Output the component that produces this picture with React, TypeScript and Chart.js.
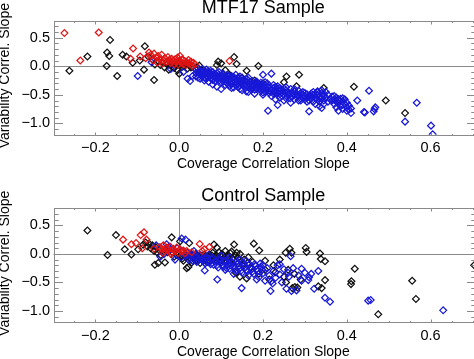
import React, { useEffect, useRef } from 'react';
import { Chart, registerables } from 'chart.js';

Chart.register(...registerables);

type P = [number, number];

// ---------- data: MTF17 sample ----------
const mtfRed: P[] = [
  [-0.274, 0.58], [-0.192, 0.59], [-0.236, 0.10], [-0.110, 0.31], [-0.116, 0.13], [-0.093, 0.17],
  [-0.072, 0.24], [-0.068, 0.20], [-0.060, 0.22], [-0.055, 0.15], [-0.050, 0.18], [-0.046, 0.12],
  [-0.042, 0.20], [-0.038, 0.10], [-0.034, 0.14], [-0.030, 0.08], [-0.027, 0.16], [-0.024, 0.11],
  [-0.021, 0.06], [-0.018, 0.13], [-0.015, 0.09], [-0.012, 0.04], [-0.010, 0.12], [-0.007, 0.07],
  [-0.004, 0.15], [-0.002, 0.03], [0.001, 0.10], [0.004, 0.06], [0.007, 0.12], [0.010, 0.04],
  [0.013, 0.09], [0.016, 0.02], [0.019, 0.07], [0.022, 0.11], [0.025, 0.04], [0.028, 0.08],
  [0.031, 0.01], [0.034, 0.06], [0.038, 0.03], [-0.062, 0.10], [-0.052, 0.06], [0.120, 0.09],
  [-0.080, 0.14], [-0.040, 0.05], [0.002, 0.18],
];

const mtfBlack: P[] = [
  [-0.262, -0.08], [-0.219, 0.17], [-0.165, 0.46], [-0.172, 0.24], [-0.167, 0.18], [-0.173, 0.005],
  [-0.148, -0.17], [-0.135, 0.20], [-0.126, 0.17], [-0.111, 0.06], [-0.082, 0.35], [-0.094, 0.10],
  [-0.084, -0.06], [-0.060, -0.24], [-0.074, 0.17], [-0.064, 0.12], [-0.058, 0.03], [-0.050, 0.09],
  [-0.045, 0.02], [-0.040, 0.07], [-0.035, -0.02], [-0.030, 0.04], [-0.025, -0.06], [-0.020, 0.01],
  [-0.016, 0.05], [-0.012, -0.03], [-0.008, 0.02], [-0.004, -0.07], [0.000, -0.13], [0.003, 0.03],
  [0.008, -0.01], [0.012, 0.00], [0.016, 0.04], [0.020, -0.04], [0.024, 0.02], [0.028, -0.02],
  [0.033, 0.00], [0.038, -0.05], [0.043, -0.02], [0.048, 0.01], [0.055, -0.08], [0.070, -0.12],
  [0.090, 0.02], [0.093, 0.08], [0.100, 0.05], [0.131, 0.16], [0.137, 0.04], [0.110, -0.07],
  [0.161, -0.08], [0.189, 0.005], [0.256, -0.18], [0.286, -0.15], [0.417, -0.36], [0.493, -0.60],
  [0.539, -0.82], [0.150, -0.20], [0.200, -0.30], [0.230, -0.45], [0.280, -0.35], [0.330, -0.45],
  [0.345, -0.38], [0.120, -0.15], [0.180, -0.25], [0.250, -0.28], [0.310, -0.52], [0.380, -0.58],
];

const mtfBlue: P[] = [
  [-0.066, 0.07], [-0.099, -0.17], [0.026, -0.26], [0.020, -0.22], [0.032, -0.17], [-0.020, -0.05], [0.010, -0.10],
  [0.040, -0.06], [0.040, -0.12], [0.040, -0.18], [0.045, -0.10], [0.045, -0.04], [0.045, -0.20],
  [0.050, -0.08], [0.050, -0.15], [0.050, -0.22], [0.050, -0.12], [0.055, -0.05], [0.055, -0.18], [0.055, -0.10],
  [0.060, -0.13], [0.060, -0.20], [0.060, -0.08], [0.060, -0.25], [0.065, -0.11], [0.065, -0.16], [0.065, -0.22],
  [0.070, -0.09], [0.070, -0.19], [0.070, -0.14], [0.070, -0.27], [0.075, -0.15], [0.075, -0.21], [0.075, -0.12],
  [0.080, -0.18], [0.080, -0.10], [0.080, -0.24], [0.080, -0.32], [0.085, -0.14], [0.085, -0.20], [0.085, -0.26],
  [0.090, -0.17], [0.090, -0.22], [0.090, -0.12], [0.090, -0.36], [0.095, -0.19], [0.095, -0.25], [0.095, -0.15],
  [0.100, -0.21], [0.100, -0.16], [0.100, -0.28], [0.100, -0.40], [0.105, -0.18], [0.105, -0.24], [0.105, -0.13],
  [0.110, -0.22], [0.110, -0.27], [0.110, -0.19], [0.110, -0.33], [0.115, -0.20], [0.115, -0.25], [0.115, -0.30],
  [0.120, -0.23], [0.120, -0.17], [0.120, -0.28], [0.120, -0.35], [0.125, -0.21], [0.125, -0.26], [0.125, -0.31],
  [0.130, -0.24], [0.130, -0.19], [0.130, -0.29], [0.130, -0.37], [0.135, -0.22], [0.135, -0.27], [0.135, -0.33],
  [0.140, -0.25], [0.140, -0.30], [0.140, -0.20], [0.140, -0.36], [0.145, -0.28], [0.145, -0.23], [0.145, -0.34],
  [0.150, -0.26], [0.150, -0.31], [0.150, -0.21], [0.150, -0.42], [0.155, -0.29], [0.155, -0.24], [0.155, -0.35],
  [0.160, -0.27], [0.160, -0.33], [0.160, -0.22], [0.160, -0.44], [0.165, -0.30], [0.165, -0.25], [0.165, -0.37],
  [0.170, -0.28], [0.170, -0.34], [0.170, -0.40], [0.175, -0.31], [0.175, -0.26], [0.175, -0.38],
  [0.180, -0.33], [0.180, -0.29], [0.180, -0.41], [0.180, -0.48], [0.185, -0.30], [0.185, -0.36], [0.185, -0.27],
  [0.190, -0.34], [0.190, -0.39], [0.190, -0.31], [0.195, -0.37], [0.195, -0.29], [0.195, -0.43],
  [0.200, -0.35], [0.200, -0.40], [0.200, -0.15], [0.200, -0.50], [0.205, -0.38], [0.205, -0.33], [0.205, -0.45],
  [0.210, -0.36], [0.210, -0.42], [0.212, -0.78], [0.210, -0.30], [0.215, -0.39], [0.215, -0.34], [0.215, -0.47],
  [0.220, -0.41], [0.220, -0.13], [0.220, -0.52], [0.225, -0.38], [0.225, -0.44], [0.225, -0.33],
  [0.230, -0.42], [0.230, -0.47], [0.230, -0.36], [0.235, -0.40], [0.235, -0.68], [0.235, -0.45],
  [0.240, -0.43], [0.240, -0.49], [0.240, -0.38], [0.240, -0.55], [0.245, -0.41], [0.245, -0.46],
  [0.250, -0.44], [0.250, -0.50], [0.250, -0.39], [0.255, -0.47], [0.255, -0.42], [0.255, -0.56],
  [0.260, -0.45], [0.260, -0.51], [0.266, -0.64], [0.266, -0.48], [0.266, -0.40], [0.270, -0.46], [0.270, -0.53],
  [0.275, -0.50], [0.275, -0.44], [0.275, -0.58], [0.280, -0.48], [0.280, -0.54], [0.285, -0.43], [0.285, -0.52],
  [0.290, -0.47], [0.290, -0.56], [0.290, -0.60], [0.295, -0.50], [0.295, -0.45],
  [0.300, -0.52], [0.300, -0.58], [0.300, -0.47], [0.305, -0.55], [0.305, -0.49],
  [0.310, -0.79], [0.310, -0.53], [0.310, -0.60], [0.315, -0.48], [0.315, -0.57],
  [0.320, -0.51], [0.320, -0.62], [0.320, -0.45], [0.325, -0.55], [0.325, -0.66],
  [0.330, -0.50], [0.330, -0.58], [0.330, -0.44], [0.335, -0.62], [0.335, -0.53], [0.335, -0.70],
  [0.340, -0.47], [0.340, -0.56], [0.340, -0.42], [0.340, -0.73], [0.345, -0.60], [0.345, -0.52], [0.345, -0.66],
  [0.350, -0.45], [0.350, -0.55], [0.355, -0.50], [0.355, -0.62],
  [0.365, -0.53], [0.365, -0.60], [0.370, -0.58], [0.370, -0.66], [0.370, -0.52], [0.375, -0.55], [0.375, -0.72],
  [0.380, -0.60], [0.380, -0.65], [0.380, -0.78], [0.385, -0.57], [0.385, -0.70],
  [0.390, -0.62], [0.390, -0.75], [0.390, -0.68], [0.395, -0.58], [0.395, -0.66],
  [0.400, -0.72], [0.400, -0.78], [0.400, -0.64], [0.405, -0.69], [0.405, -0.76], [0.410, -0.74], [0.410, -0.82],
  [0.425, -0.60], [0.441, -0.80], [0.443, -0.81], [0.453, -0.43], [0.466, -0.75], [0.468, -0.72], [0.464, -0.79],
  [0.539, -0.97], [0.567, -0.64], [0.601, -1.04], [0.605, -1.19],
  [0.045, -0.15], [0.055, -0.14], [0.065, -0.06], [0.075, -0.08], [0.085, -0.17], [0.095, -0.10],
  [0.105, -0.27], [0.115, -0.15], [0.125, -0.17], [0.135, -0.15], [0.145, -0.18], [0.155, -0.32],
  [0.165, -0.20], [0.175, -0.34], [0.185, -0.40], [0.195, -0.33], [0.205, -0.28], [0.215, -0.43],
  [0.225, -0.48], [0.235, -0.35], [0.245, -0.52], [0.255, -0.37], [0.265, -0.56], [0.275, -0.40],
  [0.285, -0.60], [0.295, -0.55], [0.305, -0.62], [0.315, -0.52], [0.325, -0.48], [0.335, -0.57],
  [0.345, -0.48], [0.360, -0.58], [0.375, -0.62], [0.390, -0.56], [0.165, -0.45], [0.145, -0.40],
  [0.125, -0.38], [0.230, -0.58], [0.250, -0.60], [0.200, -0.46],
];

// ---------- data: Control sample ----------
const ctrlRed: P[] = [
  [-0.134, 0.25], [-0.114, 0.17], [-0.103, 0.19], [-0.092, 0.33], [-0.084, 0.38], [-0.078, 0.25],
  [-0.088, 0.10], [-0.046, 0.12], [-0.042, 0.08], [-0.038, 0.15], [-0.034, 0.05], [-0.030, 0.11],
  [-0.026, 0.07], [-0.022, 0.13], [-0.018, 0.03], [-0.014, 0.09], [-0.010, 0.05], [-0.006, 0.11],
  [-0.002, 0.02], [0.002, 0.08], [0.006, 0.04], [0.010, 0.06], [0.014, 0.01], [0.018, 0.05],
  [-0.040, 0.02], [-0.020, 0.00], [0.049, 0.175], [0.055, 0.05], [0.072, 0.12], [0.060, 0.08],
  [0.030, 0.03], [-0.060, 0.09],
];

const ctrlBlack: P[] = [
  [-0.219, 0.41], [-0.171, -0.02], [-0.151, 0.33], [-0.130, 0.08], [-0.114, -0.01], [-0.098, 0.08],
  [-0.086, 0.16], [-0.080, 0.20], [-0.076, 0.13], [-0.072, 0.18], [-0.068, 0.10], [-0.064, 0.15],
  [-0.060, 0.05], [-0.056, 0.12], [-0.052, 0.02], [-0.048, 0.07], [-0.058, -0.19], [-0.050, -0.16],
  [-0.034, -0.15], [-0.018, 0.29], [0.002, 0.22], [0.024, 0.19], [0.018, -0.25], [0.022, -0.23],
  [-0.044, -0.02], [-0.028, 0.03], [-0.012, -0.05], [0.000, 0.01], [0.008, -0.08], [0.014, 0.00],
  [0.020, -0.04], [0.028, -0.10], [0.032, -0.02], [0.036, -0.07], [0.040, 0.00], [0.044, -0.12],
  [0.048, -0.05], [0.052, -0.03], [0.056, -0.09], [0.060, -0.01], [0.064, -0.06], [0.068, -0.14],
  [0.072, -0.02], [0.076, -0.08], [0.080, 0.02], [0.085, -0.05], [0.090, -0.11], [0.095, 0.03],
  [0.100, -0.04], [0.105, -0.09], [0.110, 0.05], [0.115, -0.02], [0.083, 0.165], [0.090, 0.11],
  [0.131, 0.165], [0.137, 0.02], [0.120, -0.15], [0.125, 0.04], [0.140, -0.07], [0.150, -0.20],
  [0.161, -0.43], [0.178, 0.18], [0.191, 0.06], [0.170, -0.25], [0.190, -0.35], [0.205, -0.28],
  [0.230, -0.32], [0.254, 0.02], [0.264, 0.09], [0.268, 0.02], [0.276, -0.58], [0.270, -0.60],
  [0.282, -0.59], [0.302, 0.105], [0.304, 0.035], [0.336, 0.007], [0.338, -0.09], [0.348, -0.13],
  [0.348, -0.46], [0.332, -0.57], [0.340, -0.60], [0.250, -0.40], [0.255, -0.50], [0.290, -0.45],
  [0.419, -0.26], [0.411, -0.48], [0.410, -0.53], [0.475, -1.06], [0.556, -0.47], [0.565, -0.79],
  [0.704, -0.20],
  [0.004, -0.03], [0.010, -0.12], [0.016, -0.06], [0.026, -0.01], [0.030, -0.15], [0.034, -0.05],
  [0.038, -0.11], [0.042, -0.03], [0.046, -0.08], [0.050, -0.16], [0.054, -0.06], [0.058, -0.12],
  [0.062, -0.04], [0.066, -0.09], [0.070, -0.05], [0.074, -0.13], [0.078, -0.03], [0.082, -0.09],
  [0.088, -0.02], [0.092, -0.07], [0.098, -0.13], [0.102, 0.00], [0.108, -0.06], [0.112, -0.12],
  [0.118, -0.04], [0.122, 0.01], [0.128, -0.08], [0.135, -0.03], [0.145, 0.00], [0.155, -0.10],
  [0.165, -0.06], [0.175, -0.14], [-0.006, -0.02], [-0.015, 0.02], [0.135, -0.33], [0.145, -0.40],
  [0.205, -0.12], [0.215, -0.45], [0.225, -0.20], [0.240, -0.10], [0.260, -0.28], [0.275, -0.35],
];

const ctrlBlue: P[] = [
  [0.006, 0.27], [-0.010, -0.10], [-0.030, 0.17], [-0.036, 0.00], [-0.025, 0.12], [-0.055, 0.15],
  [-0.045, -0.05], [0.015, 0.25], [0.010, 0.05], [0.015, -0.03], [0.020, 0.02], [0.025, -0.06],
  [0.030, -0.01], [0.035, -0.09], [0.040, -0.04], [0.045, -0.12], [0.050, -0.02], [0.055, -0.08],
  [0.061, -0.29], [0.060, -0.15], [0.065, -0.05], [0.070, -0.11], [0.075, -0.18], [0.080, -0.07],
  [0.085, -0.13], [0.091, -0.45], [0.090, -0.20], [0.095, -0.09], [0.100, -0.16], [0.105, -0.23],
  [0.110, -0.12], [0.115, -0.19], [0.120, -0.26], [0.125, -0.14], [0.130, -0.21], [0.135, -0.30],
  [0.140, -0.17], [0.145, -0.25], [0.149, -0.60], [0.150, -0.33], [0.155, -0.20], [0.160, -0.28],
  [0.165, -0.38], [0.170, -0.23], [0.175, -0.31], [0.180, -0.18], [0.185, -0.27], [0.190, -0.41],
  [0.195, -0.22], [0.200, -0.34], [0.205, -0.47], [0.210, -0.25], [0.215, -0.38], [0.218, -0.65],
  [0.220, -0.48], [0.223, -0.52], [0.225, -0.30], [0.230, -0.42], [0.235, -0.20], [0.240, -0.36],
  [0.245, -0.50], [0.250, -0.27], [0.256, -0.61], [0.260, -0.33], [0.262, -0.40], [0.266, -0.04],
  [0.268, -0.65], [0.272, -0.25], [0.280, -0.64], [0.285, -0.38], [0.292, -0.47], [0.292, -0.26],
  [0.300, -0.33], [0.308, -0.46], [0.310, -0.41], [0.315, -0.35], [0.322, -0.61], [0.332, -0.30],
  [0.348, -0.77], [0.360, -0.84], [0.451, -0.82], [0.457, -0.81], [0.630, -0.99], [0.110, -0.28],
  [0.130, -0.35], [0.160, -0.12], [0.185, -0.45], [0.145, -0.10], [0.200, -0.20], [0.240, -0.18],
  [0.120, -0.06], [0.100, -0.03], [0.070, -0.02],
  [0.022, -0.10], [0.028, -0.04], [0.032, -0.12], [0.038, -0.07], [0.042, -0.14], [0.048, -0.09],
  [0.052, -0.05], [0.058, -0.11], [0.062, -0.17], [0.066, -0.08], [0.072, -0.14], [0.078, -0.10],
  [0.082, -0.19], [0.088, -0.12], [0.093, -0.24], [0.098, -0.10], [0.103, -0.19], [0.108, -0.14],
  [0.113, -0.25], [0.118, -0.11], [0.123, -0.20], [0.128, -0.16], [0.133, -0.26], [0.138, -0.13],
  [0.143, -0.21], [0.148, -0.29], [0.153, -0.15], [0.158, -0.24], [0.163, -0.31], [0.168, -0.18],
  [0.173, -0.27], [0.178, -0.35], [0.183, -0.21], [0.188, -0.30], [0.193, -0.17], [0.198, -0.28],
  [-0.020, 0.08], [-0.005, 0.10], [0.005, -0.06], [0.035, 0.05],
];

// ---------- axes ----------
const X_MIN = -0.3;
const X_MAX = 0.705;
const Y_MIN = -1.2;
const Y_MAX = 0.8;
const xMajor = [-0.2, 0, 0.2, 0.4, 0.6];
const xTickLabels = ['\u22120.2', '0.0', '0.2', '0.4', '0.6'];
const yMajor = [-1.0, -0.5, 0, 0.5];
const yTickLabels = ['\u22121.0', '\u22120.5', '0.0', '0.5'];
const X_TITLE = 'Coverage Correlation Slope';
const Y_TITLE = 'Variability Correl. Slope';

const RED = '#e01414';
const BLUE = '#1818d8';
const BLACK = '#111111';
const FRAME = '#8a8a8a';
const FONT = '"Liberation Sans", Arial, Helvetica, sans-serif';

const CANVAS_W = 480;

function decoPlugin(title: string) {
  return {
    id: 'deco',
    beforeDatasetsDraw(chart: any) {
      const { ctx, chartArea: a, scales } = chart;
      const x0 = Math.round(scales.x.getPixelForValue(0)) + 0.5;
      const y0 = Math.round(scales.y.getPixelForValue(0)) + 0.5;
      ctx.save();
      ctx.strokeStyle = FRAME;
      ctx.lineWidth = 1;
      ctx.beginPath();
      ctx.moveTo(x0, a.top);
      ctx.lineTo(x0, a.bottom);
      ctx.moveTo(a.left, y0);
      ctx.lineTo(a.right, y0);
      ctx.stroke();
      ctx.restore();
    },
    afterDatasetsDraw(chart: any) {
      const { ctx, chartArea: a, scales } = chart;
      const xs = scales.x;
      const ys = scales.y;
      ctx.save();
      ctx.strokeStyle = FRAME;
      ctx.lineWidth = 1;
      const L = Math.round(a.left) + 0.5;
      const R = Math.round(a.right) + 0.5;
      const T = Math.round(a.top) + 0.5;
      const B = Math.round(a.bottom) + 0.5;
      ctx.strokeRect(L, T, R - L, B - T);
      ctx.beginPath();
      // x ticks (top & bottom): minor each 0.05, major each 0.2
      for (let i = -6; i <= 14; i++) {
        const v = i * 0.05;
        const major = i % 4 === 0;
        const len = major ? 3 : 1.5;
        const px = Math.round(xs.getPixelForValue(v)) + 0.5;
        if (px < L || px > R) continue;
        ctx.moveTo(px, B);
        ctx.lineTo(px, B - len);
        ctx.moveTo(px, T);
        ctx.lineTo(px, T + len);
      }
      // y ticks (left & right): minor each 0.1, major each 0.5
      for (let i = -12; i <= 8; i++) {
        const v = i * 0.1;
        const major = i % 5 === 0;
        const len = major ? 8.5 : 4.2;
        const py = Math.round(ys.getPixelForValue(v)) + 0.5;
        if (py < T || py > B) continue;
        ctx.moveTo(L, py);
        ctx.lineTo(L + len, py);
        ctx.moveTo(R, py);
        ctx.lineTo(R - len, py);
      }
      ctx.stroke();

      ctx.fillStyle = '#000';
      // x tick labels
      ctx.font = `14.5px ${FONT}`;
      ctx.textAlign = 'center';
      ctx.textBaseline = 'middle';
      xMajor.forEach((v, i) => {
        ctx.fillText(xTickLabels[i], xs.getPixelForValue(v), a.bottom + 13.5);
      });
      // y tick labels
      ctx.textAlign = 'right';
      yMajor.forEach((v, i) => {
        ctx.fillText(yTickLabels[i], a.left - 3.5, ys.getPixelForValue(v));
      });
      // x title
      ctx.font = `14px ${FONT}`;
      ctx.textAlign = 'center';
      ctx.textBaseline = 'alphabetic';
      ctx.fillText(X_TITLE, 263.3, a.bottom + 33.5);
      // y title
      ctx.save();
      ctx.translate(8.5, (a.top + a.bottom) / 2 - 2);
      ctx.rotate(-Math.PI / 2);
      ctx.fillText(Y_TITLE, 0, 0);
      ctx.restore();
      // title
      ctx.font = `18px ${FONT}`;
      ctx.fillText(title, 263.3, a.top - 7.5);
      ctx.restore();
    },
  };
}

function toPts(arr: P[]) {
  return arr.map(([x, y]) => ({ x, y }));
}

function ds(label: string, arr: P[], color: string) {
  return {
    label,
    data: toPts(arr),
    showLine: false,
    pointStyle: 'rectRot',
    pointRadius: 3.4,
    pointHoverRadius: 3.4,
    pointBorderWidth: 1.25,
    pointBackgroundColor: 'rgba(0,0,0,0)',
    pointBorderColor: color,
    borderColor: color,
    backgroundColor: 'rgba(0,0,0,0)',
  };
}

interface PanelProps {
  title: string;
  red: P[];
  blue: P[];
  black: P[];
  top: number;
  height: number;
  areaTop: number;
  areaBottom: number;
}

function Panel({ title, red, blue, black, top, height, areaTop, areaBottom }: PanelProps) {
  const ref = useRef<HTMLCanvasElement | null>(null);
  useEffect(() => {
    if (!ref.current) return;
    const chart = new Chart(ref.current, {
      type: 'scatter',
      data: {
        datasets: [ds('red', red, RED), ds('blue', blue, BLUE), ds('black', black, BLACK)] as any,
      },
      options: {
        animation: false,
        responsive: false,
        devicePixelRatio: 1,
        layout: {
          padding: { left: 53.5, right: CANVAS_W - 474.6, top: areaTop, bottom: height - areaBottom },
        },
        scales: {
          x: { type: 'linear', min: X_MIN, max: X_MAX, display: false },
          y: { type: 'linear', min: Y_MIN, max: Y_MAX, display: false },
        },
        plugins: {
          legend: { display: false },
          tooltip: { enabled: false },
          title: { display: false },
        },
        events: [],
      } as any,
      plugins: [decoPlugin(title)],
    });
    return () => chart.destroy();
  }, [title, red, blue, black, height, areaTop, areaBottom]);
  return (
    <canvas
      ref={ref}
      width={CANVAS_W}
      height={height}
      style={{ position: 'absolute', left: 0, top, width: CANVAS_W, height, display: 'block' }}
    />
  );
}

export default function App() {
  return (
    <div
      style={{
        position: 'fixed',
        left: 0,
        top: 0,
        width: 474,
        height: 359,
        overflow: 'hidden',
        background: '#fff',
      }}
    >
      <Panel title="MTF17 Sample" red={mtfRed} blue={mtfBlue} black={mtfBlack} top={0} height={180} areaTop={20.5} areaBottom={134.8} />
      <Panel title="Control Sample" red={ctrlRed} blue={ctrlBlue} black={ctrlBlack} top={180} height={179} areaTop={28.3} areaBottom={142.3} />
    </div>
  );
}
